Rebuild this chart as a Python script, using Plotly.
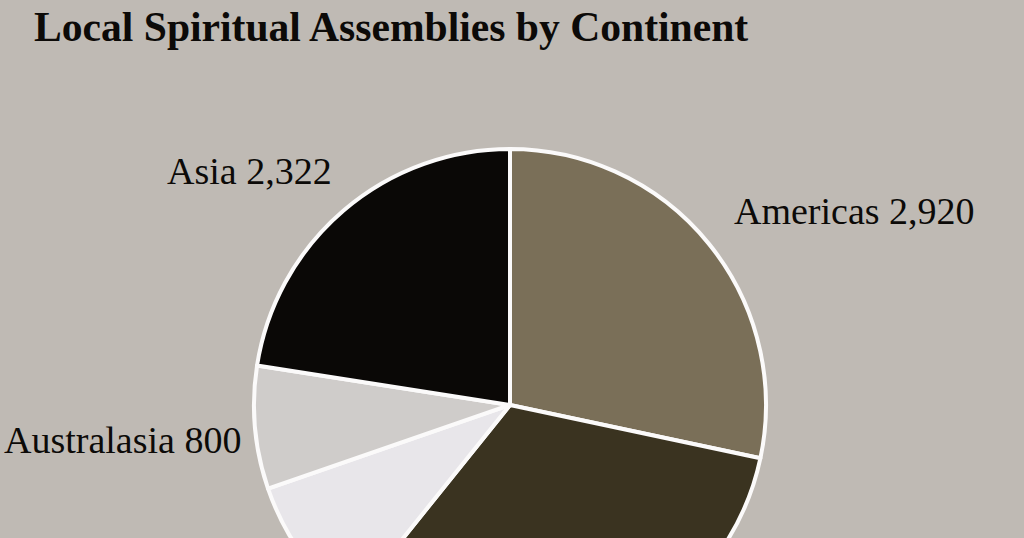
import plotly.graph_objects as go

# slices clockwise from 12 o'clock, the two lower labels are cut off in the picture
continents = ['Americas', 'Africa', 'Europe', 'Australasia', 'Asia']
assemblies = [2920, 3343, 922, 800, 2322]
slice_colors = ['#7a6f58', '#3a3320', '#e8e6ea', '#cfccca', '#0a0806']

shown_labels = ['Asia 2,322', 'Americas 2,920', 'Australasia 800']
label_x = [249, 854, 122]
label_y = [171, 211, 440]

title_text = 'Local Spiritual Assemblies by Continent'

# figure is taller than the window so the bottom of the pie falls off the page
W = 1024
H = 810
CX = 510
CY = 405
R = 256

fig = go.Figure(go.Pie(
    labels=continents,
    values=assemblies,
    sort=False,
    direction='clockwise',
    rotation=0,
    textinfo='none',
    hoverinfo='label+value',
    showlegend=False,
    marker=dict(colors=slice_colors, line=dict(color='#fbfafa', width=4)),
    domain=dict(x=[(CX - R) / W, (CX + R) / W], y=[1 - (CY + R) / H, 1 - (CY - R) / H]),
))

for text, x, y in zip(shown_labels, label_x, label_y):
    fig.add_annotation(text=text, x=x / W, y=1 - y / H, xref='paper', yref='paper',
                       showarrow=False, xanchor='center', yanchor='middle',
                       font=dict(family='Liberation Serif', size=38, color='#0c0a08'))

fig.add_annotation(text='<b>' + title_text + '</b>', x=32 / W, y=1 - 27 / H, xref='paper', yref='paper',
                   showarrow=False, xanchor='left', yanchor='middle',
                   font=dict(family='Liberation Serif', size=41.6, color='#0c0a08'))

fig.update_layout(width=W, height=H, margin=dict(l=0, r=0, t=0, b=0),
                  paper_bgcolor='#bfbab4', plot_bgcolor='#bfbab4')

fig.write_html("out.html", config={'displayModeBar': False},
               post_script="document.body.style.margin='0';document.documentElement.style.overflow='hidden';document.body.style.background='#bfbab4';")
